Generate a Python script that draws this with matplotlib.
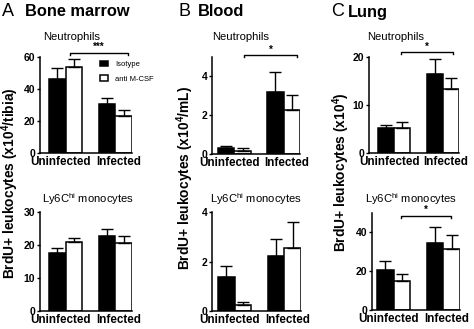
"""BrdU+ neutrophil and Ly6C-hi monocyte counts: isotype vs anti M-CSF."""
import matplotlib
matplotlib.use("Agg")
import matplotlib.pyplot as plt
import numpy as np

plt.rcParams["font.family"] = ["Liberation Sans", "DejaVu Sans"]
plt.rcParams["mathtext.fontset"] = "custom"
plt.rcParams["mathtext.rm"] = "Liberation Sans"
plt.rcParams["mathtext.bf"] = "Liberation Sans:bold"

groups = ["Uninfected", "Infected"]
series = ["Isotype", "anti M-CSF"]

# bone marrow (x10^4 / tibia)
bm_neut_iso, bm_neut_iso_err = [46.0, 30.8], [7.0, 3.3]
bm_neut_anti, bm_neut_anti_err = [54.0, 23.3], [4.6, 3.8]
bm_mono_iso, bm_mono_iso_err = [17.5, 22.8], [1.5, 2.1]
bm_mono_anti, bm_mono_anti_err = [20.9, 20.6], [1.2, 2.2]

# blood (x10^4 / mL)
bl_neut_iso, bl_neut_iso_err = [0.31, 3.19], [0.12, 1.02]
bl_neut_anti, bl_neut_anti_err = [0.17, 2.28], [0.14, 0.77]
bl_mono_iso, bl_mono_iso_err = [1.36, 2.24], [0.46, 0.67]
bl_mono_anti, bl_mono_anti_err = [0.26, 2.54], [0.09, 1.07]

# lung (x10^4)
lu_neut_iso, lu_neut_iso_err = [5.2, 16.5], [0.56, 3.1]
lu_neut_anti, lu_neut_anti_err = [5.28, 13.3], [1.1, 2.3]
lu_mono_iso, lu_mono_iso_err = [20.5, 34.3], [4.7, 8.3]
lu_mono_anti, lu_mono_anti_err = [14.8, 31.7], [3.6, 6.9]

W, H = 474, 329
fig = plt.figure(figsize=(W / 100, H / 100), dpi=100)


def fx(px):
    return px / W


def fy(py):
    return 1 - py / H


def add_axes(left, right, top, bottom):
    return fig.add_axes([fx(left), fy(bottom), (right - left) / W, (bottom - top) / H])


def draw_panel(ax, iso, iso_err, anti, anti_err, ylim, yticks, xleft, sig=None):
    x = np.array([0, 3])
    kw = dict(width=1.0, edgecolor="black", linewidth=1.1, zorder=2)
    ekw = dict(elinewidth=1.0, capthick=1.0, capsize=4.0, ecolor="black", zorder=3)
    ax.bar(x, iso, color="black", yerr=[np.zeros(2), iso_err],
           error_kw=ekw, label=series[0], **kw)
    ax.bar(x + 1, anti, color="white", yerr=[np.zeros(2), anti_err],
           error_kw=ekw, label=series[1], **kw)
    ax.set_xlim(xleft, 4.5)
    ax.set_ylim(*ylim)
    ax.set_yticks(yticks)
    ax.set_xticks([])
    for s in ("top", "right"):
        ax.spines[s].set_visible(False)
    for s in ("left", "bottom"):
        ax.spines[s].set_linewidth(1.1)
    ax.tick_params(axis="y", length=2.5, width=1.0, pad=1, labelsize=7.5)
    for lab in ax.get_yticklabels():
        lab.set_fontweight("bold")
    for xpos, name in zip([0.2, 3.7], groups):
        ax.annotate(name, (xpos, 0), xycoords=("data", "axes fraction"),
                    xytext=(0, -2.5), textcoords="offset points",
                    ha="center", va="top", fontsize=8.4, fontweight="bold")
    if sig:
        x0, x1, y, stars = sig
        d = ylim[1] * 0.017
        ax.plot([x0, x0, x1, x1], [y - d, y, y, y - d], color="black",
                lw=1.0, clip_on=False)
        ax.annotate(stars, ((x0 + x1) / 2, y), xytext=(0, 0.5),
                    textcoords="offset points", ha="center", va="bottom",
                    fontsize=7, fontweight="bold", annotation_clip=False)


# top row: neutrophils
ax_a1 = add_axes(40, 132, 57, 153)
draw_panel(ax_a1, bm_neut_iso, bm_neut_iso_err, bm_neut_anti, bm_neut_anti_err,
           (0, 60), [0, 20, 40, 60], -1.04, sig=(0.76, 4.25, 62.5, "***"))
ax_b1 = add_axes(212, 300, 57, 154)
draw_panel(ax_b1, bl_neut_iso, bl_neut_iso_err, bl_neut_anti, bl_neut_anti_err,
           (0, 5), [0, 2, 4], -0.87, sig=(1.09, 4.32, 5.1, "*"))
ax_c1 = add_axes(369, 459, 57, 153)
draw_panel(ax_c1, lu_neut_iso, lu_neut_iso_err, lu_neut_anti, lu_neut_anti_err,
           (0, 20), [0, 10, 20], -1.06, sig=(0.92, 4.14, 21.0, "*"))

# bottom row: Ly6C-hi monocytes
ax_a2 = add_axes(40, 132, 212, 311)
draw_panel(ax_a2, bm_mono_iso, bm_mono_iso_err, bm_mono_anti, bm_mono_anti_err,
           (0, 30), [0, 10, 20, 30], -1.04)
ax_b2 = add_axes(212, 301, 212, 311)
draw_panel(ax_b2, bl_mono_iso, bl_mono_iso_err, bl_mono_anti, bl_mono_anti_err,
           (0, 4), [0, 2, 4], -0.86)
ax_c2 = add_axes(372, 460, 213, 310)
draw_panel(ax_c2, lu_mono_iso, lu_mono_iso_err, lu_mono_anti, lu_mono_anti_err,
           (0, 50), [0, 20, 40], -0.8, sig=(0.93, 3.95, 48.5, "*"))

ax_a1.legend(loc="upper left", bbox_to_anchor=(fx(100), fy(61)),
             bbox_transform=fig.transFigure, frameon=False, fontsize=5.5,
             handlelength=1.0, handleheight=0.7, handletextpad=1.0,
             labelspacing=0.9, borderpad=0, borderaxespad=0)

# panel headers
for px, letter, py_name, name in [(2, "A", 25, "Bone marrow"),
                                  (178, "B", 198, "Blood"),
                                  (331, "C", 348, "Lung")]:
    fig.text(fx(px), fy(12), letter, fontsize=13, va="center", ha="left")
    fig.text(fx(py_name), fy(12), name, fontsize=11.8, fontweight="bold",
             va="center", ha="left")

# sub-panel titles
mono_title = "Ly6C$^{\\mathrm{hi}}$ monocytes"
for px in (43, 212, 367):
    fig.text(fx(px), fy(37), "Neutrophils", fontsize=8.1, va="center", ha="left")
for px in (42, 210, 365):
    fig.text(fx(px), fy(199), mono_title, fontsize=8.1, va="center", ha="left")

# shared y labels
for px, py, unit in [(10, 183, "tibia"), (185, 178, "mL"), (341, 172, None)]:
    if unit:
        lab = "BrdU+ leukocytes (x10$^{\\mathbf{4}}$/" + unit + ")"
    else:
        lab = "BrdU+ leukocytes (x10$^{\\mathbf{4}}$)"
    fig.text(fx(px), fy(py), lab, rotation=90, fontsize=9.9, fontweight="bold",
             va="center", ha="center")

fig.savefig("out.png", dpi=100)
plt.close(fig)
